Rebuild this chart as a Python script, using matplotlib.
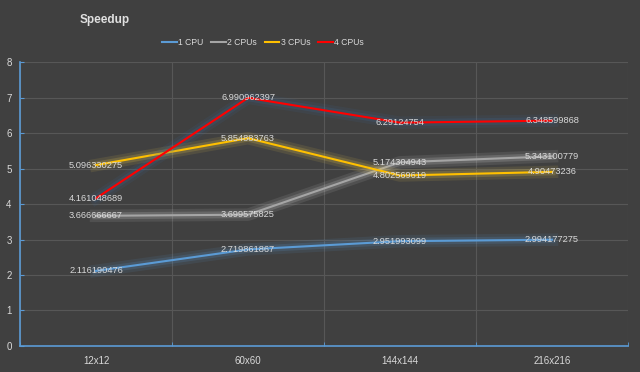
import matplotlib
matplotlib.use("Agg")
import matplotlib.pyplot as plt
import matplotlib.patheffects as pe

categories = ["12x12", "60x60", "144x144", "216x216"]
cpu1 = [2.116190476, 2.719861867, 2.951993099, 2.994177275]
cpu2 = [3.666666667, 3.699575825, 5.174304943, 5.343100779]
cpu3 = [5.096330275, 5.854883763, 4.802569619, 4.90473236]
cpu4 = [4.161048689, 6.990962397, 6.29124754, 6.348599868]
labels1 = ["2.116190476", "2.719861867", "2.951993099", "2.994177275"]
labels2 = ["3.666666667", "3.699575825", "5.174304943", "5.343100779"]
labels3 = ["5.096330275", "5.854883763", "4.802569619", "4.90473236"]
labels4 = ["4.161048689", "6.990962397", "6.29124754", "6.348599868"]
series_names = ["1 CPU", "2 CPUs", "3 CPUs", "4 CPUs"]

plt.rcParams['font.family'] = ['Liberation Sans Narrow', 'Liberation Sans', 'DejaVu Sans']

bg = "#404040"
fig = plt.figure(figsize=(6.4, 3.72), dpi=100, facecolor=bg)
ax = fig.add_axes([0.03125, 0.0699, 0.95, 0.7634], facecolor=bg)

x = list(range(len(categories)))
colors = ["#5b9bd5", "#a5a5a5", "#ffc000", "#ff0000"]
glows = ["#5b9bd5", "#e0e0e0", "#ffd84d", "#3a6ea5"]
data = [cpu1, cpu2, cpu3, cpu4]
labs = [labels1, labels2, labels3, labels4]

for ys, c, g, name in zip(data, colors, glows, series_names):
    ax.plot(x, ys, color=c, lw=1.5, label=name, zorder=3,
            path_effects=[pe.Stroke(linewidth=9, foreground=g, alpha=0.1),
                          pe.Stroke(linewidth=5, foreground=g, alpha=0.17),
                          pe.Normal()])
for ys, ls in zip(data, labs):
    for xi, yi, t in zip(x, ys, ls):
        ax.text(xi, yi, t, ha="center", va="center", fontsize=6.7,
                color="#d9d9d9", zorder=5)

ax.set_xlim(-0.5, 3.5)
ax.set_ylim(0, 8)
ax.set_yticks(range(0, 9))
ax.set_xticks(x)
ax.set_xticklabels(categories)
ax.set_xticks([-0.5, 0.5, 1.5, 2.5, 3.5], minor=True)
ax.tick_params(axis="x", which="major", length=0, colors="#d9d9d9", labelsize=7, pad=7)
ax.tick_params(axis="x", which="minor", length=3, color="#5b9bd5", direction="in")
ax.tick_params(axis="y", length=3, color="#5b9bd5", direction="in", labelcolor="#d9d9d9", labelsize=7, pad=6)
ax.grid(True, axis="y", color="#575757", lw=0.8)
ax.grid(True, axis="x", which="minor", color="#575757", lw=0.8)
for s in ["top", "right"]:
    ax.spines[s].set_visible(False)
for s in ["left", "bottom"]:
    ax.spines[s].set_color("#5b9bd5")
    ax.spines[s].set_linewidth(1.2)

fig.text(0.125, 0.945, "Speedup", fontsize=8.5, fontweight="bold", color="#e0e0e0", ha="left", va="center")
leg = fig.legend(loc="center", bbox_to_anchor=(0.411, 0.885), ncol=4, frameon=False,
                 fontsize=6.2, labelcolor="#d9d9d9", handlelength=1.7, handletextpad=0.15,
                 columnspacing=0.9)
for h in leg.get_lines():
    h.set_path_effects([])
    h.set_linewidth(1.5)

fig.savefig("out.png", dpi=100, facecolor=bg)
